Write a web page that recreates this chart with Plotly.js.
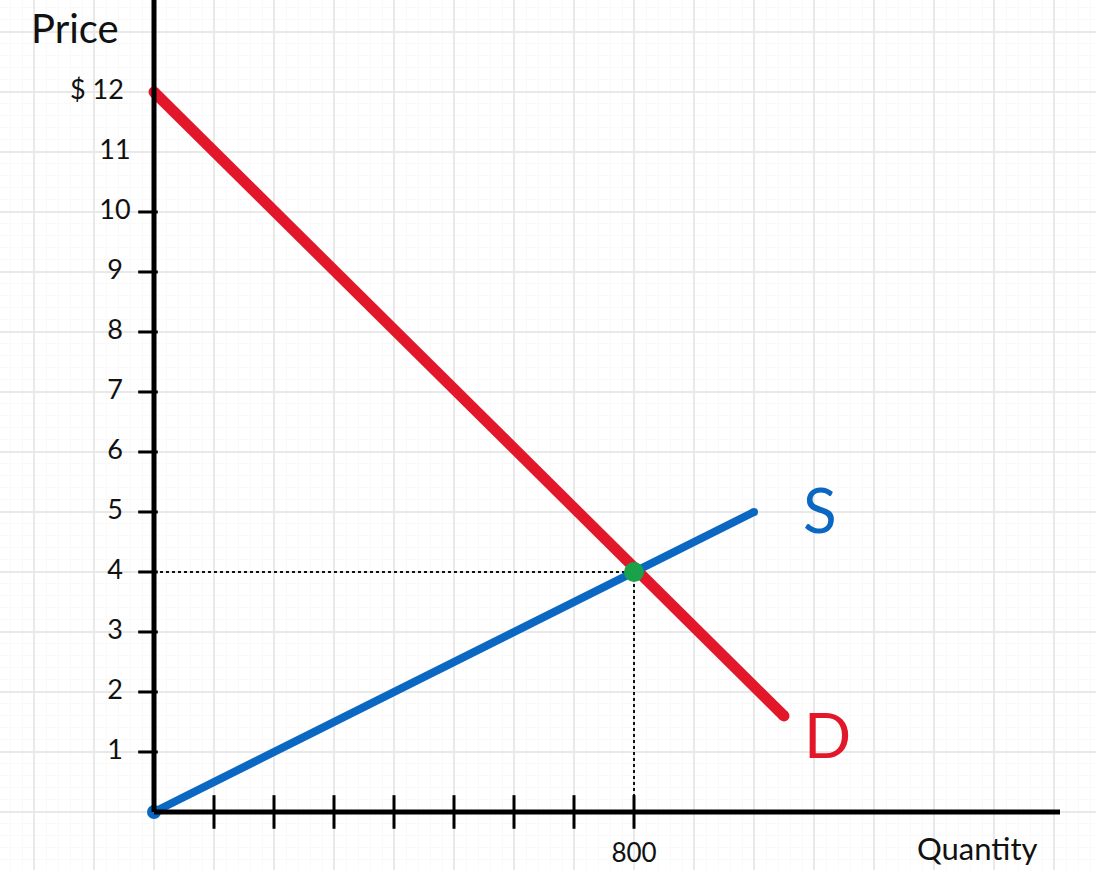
<!DOCTYPE html>
<html>
<head>
<meta charset="utf-8">
<script src="https://cdn.plot.ly/plotly-3.0.1.min.js"></script>
<style>html,body{margin:0;padding:0;background:#fff;}#chart{width:1096px;height:870px;}</style>
</head>
<body>
<div id="chart"></div>
<script>
// Data
var demandQ = [0, 1050];
var demandP = [12, 1.6];
var supplyQ = [0, 1000];
var supplyP = [0, 5];
var equilibriumQ = [800];
var equilibriumP = [4];
var priceTicks = [1, 2, 3, 4, 5, 6, 7, 8, 9, 10];
var priceLabels = ["1", "2", "3", "4", "5", "6", "7", "8", "9", "10", "11", "$ 12"];
var priceLabelValues = [1, 2, 3, 4, 5, 6, 7, 8, 9, 10, 11, 12];
var quantityTicks = [100, 200, 300, 400, 500, 600, 700, 800];
var quantityLabel = ["800"];
var quantityLabelValues = [800];
var xAxisEnd = 1510;
var yAxisEnd = 13.6;

var FONT = "Lato, 'Open Sans', sans-serif";

var traces = [
  // dotted guides to equilibrium
  {x: [0, equilibriumQ[0], equilibriumQ[0]], y: [equilibriumP[0], equilibriumP[0], 0],
   mode: 'lines', line: {color: '#111', width: 2, dash: 'dot'}, hoverinfo: 'skip'},
  // y-axis ticks
  {x: priceTicks.map(function(){return -10;}), y: priceTicks, mode: 'markers',
   marker: {symbol: 'line-ew', size: 14, line: {color: '#000', width: 3}}, hoverinfo: 'skip'},
  // x-axis ticks
  {x: quantityTicks, y: quantityTicks.map(function(){return 0;}), mode: 'markers',
   marker: {symbol: 'line-ns', size: 24, line: {color: '#000', width: 3}}, hoverinfo: 'skip'},
  // demand
  {x: demandQ, y: demandP, mode: 'lines+markers', line: {color: '#e3172a', width: 11},
   marker: {color: '#e3172a', size: 11}, hoverinfo: 'skip'},
  // supply
  {x: supplyQ, y: supplyP, mode: 'lines+markers', line: {color: '#0a67c2', width: 8},
   marker: {color: '#0a67c2', size: 8}, hoverinfo: 'skip'},
  // supply origin dot
  {x: [supplyQ[0]], y: [supplyP[0]], mode: 'markers', marker: {color: '#0a67c2', size: 14}, hoverinfo: 'skip'},
  // equilibrium
  {x: equilibriumQ, y: equilibriumP, mode: 'markers', marker: {color: '#19a24a', size: 20}, hoverinfo: 'skip'},
  // price labels
  {x: priceLabelValues.map(function(v){return v === 12 ? -95 : -65;}), y: priceLabelValues,
   mode: 'text', text: priceLabels, textposition: 'middle center',
   textfont: {family: FONT, size: 27, color: '#111'}, hoverinfo: 'skip'},
  // quantity label
  {x: quantityLabelValues, y: quantityLabelValues.map(function(){return -0.72;}),
   mode: 'text', text: quantityLabel, textposition: 'middle center',
   textfont: {family: FONT, size: 26, color: '#111'}, hoverinfo: 'skip'}
];

var layout = {
  width: 1096, height: 870,
  margin: {l: 0, r: 0, t: 0, b: 0},
  paper_bgcolor: '#fff', plot_bgcolor: '#fff',
  showlegend: false,
  xaxis: {range: [-256.67, 1570], showticklabels: false, ticks: '', zeroline: false,
          showgrid: true, gridcolor: '#e9e9e9', gridwidth: 1.5, tick0: 0, dtick: 100,
          minor: {showgrid: true, dtick: 20, gridcolor: '#f9f9f9', gridwidth: 1},
          fixedrange: true},
  yaxis: {range: [-0.967, 13.533], showticklabels: false, ticks: '', zeroline: false,
          showgrid: true, gridcolor: '#e9e9e9', gridwidth: 1.5, tick0: 0, dtick: 1,
          minor: {showgrid: true, dtick: 0.2, gridcolor: '#f9f9f9', gridwidth: 1},
          fixedrange: true},
  shapes: [
    {type: 'line', xref: 'x', yref: 'y', x0: 0, x1: 0, y0: 0, y1: yAxisEnd,
     line: {color: '#000', width: 5}},
    {type: 'line', xref: 'x', yref: 'y', x0: 0, x1: xAxisEnd, y0: 0, y1: 0,
     line: {color: '#000', width: 5}}
  ],
  annotations: [
    {text: 'Price', xref: 'paper', yref: 'paper', x: 75/1096, y: 1 - 28/870,
     xanchor: 'center', yanchor: 'middle',
     showarrow: false, font: {family: FONT, size: 40, color: '#111'}},
    {text: 'Quantity', xref: 'paper', yref: 'paper', x: 977/1096, y: 1 - 848/870,
     xanchor: 'center', yanchor: 'middle',
     showarrow: false, font: {family: FONT, size: 31, color: '#111'}},
    {text: 'S', xref: 'x', yref: 'y', x: supplyQ[1] + 110, y: supplyP[1] + 0.05,
     xanchor: 'center', yanchor: 'middle',
     showarrow: false, font: {family: FONT, size: 62, color: '#0a67c2'}},
    {text: 'D', xref: 'x', yref: 'y', x: demandQ[1] + 73, y: demandP[1] - 0.3,
     xanchor: 'center', yanchor: 'middle',
     showarrow: false, font: {family: FONT, size: 62, color: '#e3172a'}}
  ]
};

Plotly.newPlot('chart', traces, layout, {displayModeBar: false, staticPlot: true});
</script>
</body>
</html>
